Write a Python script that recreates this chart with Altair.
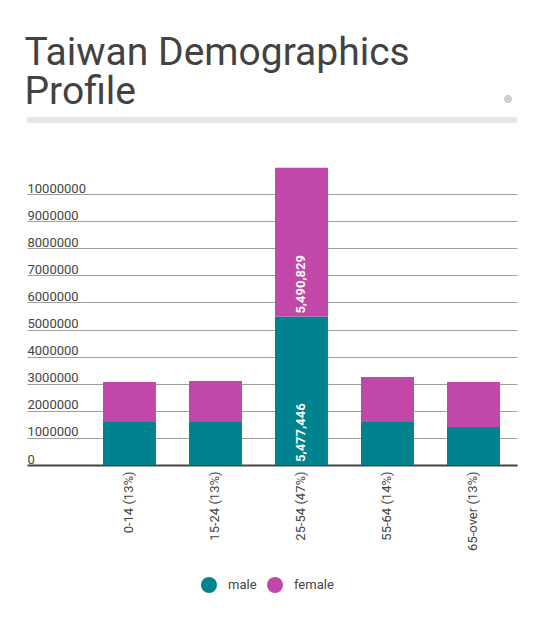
import altair as alt
import pandas as pd

# values
age_groups = ["0-14 (13%)", "15-24 (13%)", "25-54 (47%)", "55-64 (14%)", "65-over (13%)"]
male = [1587000, 1590000, 5477446, 1590000, 1402000]
female = [1476000, 1512000, 5490829, 1657000, 1661000]
sexes = ["male", "female"]
colors = ["#00838f", "#c147a9"]
y_ticks = [0, 1000000, 2000000, 3000000, 4000000, 5000000,
           6000000, 7000000, 8000000, 9000000, 10000000]

rows = []
for i, age in enumerate(age_groups):
    rows.append({"age": age, "sex": "male", "idx": 0, "value": male[i]})
    rows.append({"age": age, "sex": "female", "idx": 1, "value": female[i]})
df = pd.DataFrame(rows)

FONT = "Roboto"
W, H = 490, 298

base = alt.Chart(df).transform_stack(
    stack="value", groupby=["age"], as_=["y0", "y1"],
    sort=[alt.SortField("idx", order="ascending")]
)

x_axis = alt.Axis(labelAngle=-90, labelAlign="right", labelBaseline="middle",
                  labelPadding=6, ticks=False, domainColor="#444444",
                  domainWidth=2, labelColor="#444444", labelFont=FONT,
                  labelFontSize=13, grid=False)
x_scale = alt.Scale(paddingInner=0.384, paddingOuter=0.5407, align=0.817)

y_axis = alt.Axis(values=y_ticks, format="d", labelOverlap=False, tickCount=11,
                  labelAlign="left", labelBaseline="alphabetic",
                  labelPadding=0, tickSize=0, ticks=False, domain=False,
                  labelOffset=-2, labelFont=FONT, labelFontSize=13,
                  labelColor="#444444", gridColor="#9e9e9e", gridWidth=1)
y_scale = alt.Scale(domain=[0, 11000000], nice=False)

bars = base.mark_bar().encode(
    x=alt.X("age:N", sort=age_groups, title=None, scale=x_scale, axis=x_axis),
    y=alt.Y("y0:Q", title=None, scale=y_scale, axis=y_axis),
    y2="y1:Q",
    color=alt.Color("sex:N", scale=alt.Scale(domain=sexes, range=colors), title=None,
                    legend=alt.Legend(orient="none", legendX=174, legendY=410,
                                      direction="horizontal", symbolType="circle",
                                      symbolSize=256, symbolStrokeWidth=0,
                                      labelOffset=11, columnPadding=10, padding=0,
                                      labelFont=FONT, labelFontSize=13,
                                      labelColor="#444444")),
)

labels = base.transform_filter("datum.value > 4000000").mark_text(
    angle=270, align="left", baseline="middle", dx=3,
    font=FONT, fontSize=13, fontWeight="bold", color="white"
).encode(
    x=alt.X("age:N", sort=age_groups, title=None, scale=x_scale, axis=x_axis),
    y=alt.Y("y0:Q", title=None, scale=y_scale, axis=y_axis),
    text=alt.Text("value:Q", format=","),
)

# decorative underline bar and dot under the title
underline = alt.Chart(df).mark_rule(color="#e6e6e6", strokeWidth=5).encode(
    x=alt.value(0), x2=alt.value(W), y=alt.value(-47)
)
dot = alt.Chart(df).mark_point(filled=True, color="#d0d0d0", size=50, opacity=1).encode(
    x=alt.value(481), y=alt.value(-68)
)

chart = alt.layer(bars, labels, underline, dot).properties(
    width=W, height=H,
    title=alt.Title(["Taiwan Demographics", "Profile"], anchor="start",
                    font=FONT, fontSize=39, fontWeight="normal", color="#424242",
                    lineHeight=39, offset=-17),
    autosize=alt.AutoSizeParams(type="none"),
    padding={"left": 19, "top": 159, "right": 20, "bottom": 150},
).configure_view(stroke=None)

chart.save("out.html", embed_options={"renderer": "svg", "actions": False})
